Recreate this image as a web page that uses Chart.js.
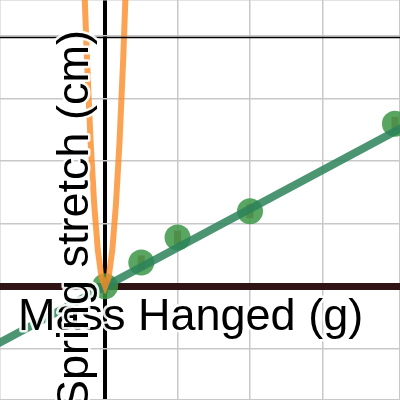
<!DOCTYPE html><html><head><style>html,body{margin:0;padding:0;background:#fff}#w{width:400px;height:400px}</style>
<script src="https://cdn.jsdelivr.net/npm/chart.js@4"></script></head><body><div id="w"><canvas id="c"></canvas></div>
<script>
const massX=[0,0.5,1,2,4];
const stretchY=[0,0.38,0.78,1.2,2.6];
const fitX=[-1.5,4.1];
const fitY=[-0.93,2.54];
const parabX=[-0.29,-0.25,-0.2,-0.15,-0.1,-0.05,0,0.05,0.1,0.15,0.2,0.25,0.29];
const parabY=[4.9,3.63,2.32,1.31,0.58,0.15,0,0.15,0.58,1.31,2.32,3.63,4.9];
const hLineX=[-1.5,4.1];
const hLineY=[3.98,3.98];
const xLabel="Mass Hanged (g)", yLabel="Spring stretch (cm)";
const pts=(xs,ys)=>xs.map((x,i)=>({x,y:ys[i]}));
const labels={id:'lbl',afterDatasetsDraw(ch){const c=ch.ctx;c.save();c.font='45px "Liberation Sans", Arial';c.lineJoin='round';c.lineWidth=5;c.strokeStyle='rgba(255,255,255,0.9)';c.fillStyle='#000';c.textBaseline='middle';
c.strokeText(xLabel,18,318);c.fillText(xLabel,18,318);
c.translate(76,400);c.rotate(-Math.PI/2);c.textAlign='right';c.strokeText(yLabel,370,0);c.fillText(yLabel,370,0);c.restore();}};
new Chart(document.getElementById('c'),{type:'scatter',data:{datasets:[
{data:pts(hLineX,hLineY),showLine:true,borderColor:'#000',borderWidth:1.5,pointRadius:0},
{data:pts(parabX,parabY),showLine:true,borderColor:'rgba(250,140,40,0.8)',borderWidth:6,pointRadius:0,tension:0},
{data:pts(fitX,fitY),showLine:true,borderColor:'rgba(45,130,90,0.85)',borderWidth:8,pointRadius:0},
{data:pts(massX,stretchY),pointRadius:13,backgroundColor:'rgba(60,150,70,0.85)',borderWidth:0},
{data:pts(massX,stretchY),pointStyle:'line',rotation:90,pointRadius:7,pointBorderWidth:7,pointBorderColor:'rgba(190,80,70,0.85)',borderColor:'rgba(190,80,70,0.85)',borderWidth:7}
]},options:{animation:false,responsive:true,maintainAspectRatio:false,layout:{padding:0,autoPadding:false},plugins:{legend:{display:false},tooltip:{enabled:false}},
scales:{x:{type:'linear',min:-1.45,max:4.07,border:{display:false},ticks:{display:false,stepSize:1},
grid:{drawTicks:false,color:c=>c.tick.value===0?'#000':'#c8c8c8',lineWidth:c=>c.tick.value===0?4:1.5}},
y:{type:'linear',min:-1.82,max:4.58,border:{display:false},ticks:{display:false,stepSize:1},
grid:{drawTicks:false,color:c=>c.tick.value===0?'#2e1414':'#c8c8c8',lineWidth:c=>c.tick.value===0?7:1.5}}}},plugins:[labels]});
</script></body></html>
